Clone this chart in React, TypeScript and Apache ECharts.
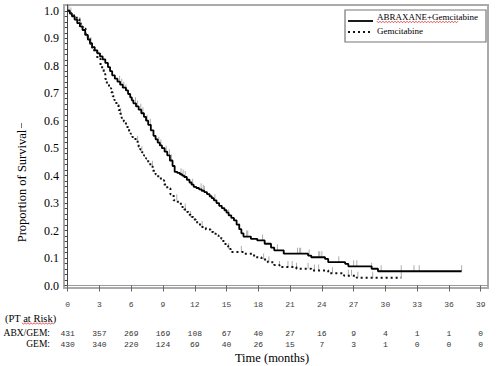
import React, { useEffect, useRef } from "react";
import * as echarts from "echarts";

// Kaplan-Meier step data (time in months, survival proportion)
const abxTimes = [0, 0.2, 0.4, 0.65, 0.9, 1.15, 1.4, 1.65, 1.9, 2.1, 2.3, 2.55, 2.8, 3.05, 3.3, 3.55, 3.8, 4.0, 4.2, 4.45, 4.7, 4.95, 5.2, 5.5, 5.7, 5.9, 6.05, 6.2, 6.45, 6.7, 6.95, 7.2, 7.4, 7.6, 7.85, 8.1, 8.3, 8.5, 8.7, 8.9, 9.15, 9.4, 9.65, 9.9, 10.1, 10.35, 10.6, 10.8, 11.0, 11.25, 11.5, 11.7, 11.9, 12.15, 12.4, 12.65, 12.9, 13.15, 13.4, 13.6, 13.8, 14.05, 14.3, 14.55, 14.8, 15.0, 15.2, 15.45, 15.7, 15.95, 16.2, 16.4, 16.6, 17.3, 17.9, 18.6, 19.2, 19.5, 20.4, 22.7, 23.0, 24.3, 24.6, 26.2, 26.5, 28.7, 29.3, 37.2];
const abxSurv = [1.0, 0.99, 0.98, 0.968, 0.955, 0.943, 0.93, 0.912, 0.895, 0.882, 0.868, 0.856, 0.845, 0.834, 0.823, 0.81, 0.795, 0.78, 0.765, 0.753, 0.742, 0.731, 0.72, 0.71, 0.697, 0.685, 0.674, 0.663, 0.652, 0.64, 0.627, 0.614, 0.6, 0.585, 0.565, 0.545, 0.532, 0.52, 0.51, 0.5, 0.487, 0.474, 0.455, 0.435, 0.414, 0.41, 0.405, 0.4, 0.395, 0.385, 0.375, 0.367, 0.359, 0.355, 0.35, 0.345, 0.34, 0.333, 0.325, 0.318, 0.31, 0.3, 0.29, 0.282, 0.274, 0.265, 0.255, 0.246, 0.237, 0.222, 0.205, 0.19, 0.178, 0.17, 0.164, 0.152, 0.138, 0.128, 0.116, 0.109, 0.103, 0.097, 0.085, 0.079, 0.07, 0.061, 0.052, 0.052];

const gemTimes = [0, 0.3, 0.6, 0.85, 1.1, 1.4, 1.7, 1.9, 2.1, 2.3, 2.5, 2.8, 3.1, 3.25, 3.4, 3.55, 3.7, 3.9, 4.1, 4.25, 4.4, 4.6, 4.8, 4.95, 5.1, 5.3, 5.5, 5.65, 5.8, 5.95, 6.1, 6.4, 6.7, 6.85, 7.0, 7.2, 7.4, 7.6, 7.8, 8.05, 8.3, 8.55, 8.8, 9.1, 9.4, 9.7, 10.0, 10.4, 10.8, 11.0, 11.2, 11.4, 11.6, 11.85, 12.1, 12.35, 12.6, 13.05, 13.5, 13.75, 14.0, 14.25, 14.5, 14.7, 14.9, 15.15, 15.4, 16.7, 17.6, 18.3, 18.9, 19.5, 20.0, 21.6, 23.0, 24.6, 26.1, 27.3, 31.5];
const gemSurv = [1.0, 0.99, 0.983, 0.968, 0.953, 0.935, 0.916, 0.898, 0.88, 0.865, 0.849, 0.825, 0.8, 0.785, 0.77, 0.752, 0.734, 0.718, 0.703, 0.689, 0.675, 0.657, 0.639, 0.625, 0.61, 0.597, 0.584, 0.573, 0.562, 0.552, 0.541, 0.523, 0.505, 0.495, 0.485, 0.473, 0.462, 0.447, 0.432, 0.418, 0.405, 0.394, 0.383, 0.368, 0.353, 0.332, 0.31, 0.298, 0.286, 0.277, 0.268, 0.258, 0.249, 0.24, 0.23, 0.222, 0.213, 0.204, 0.195, 0.188, 0.182, 0.176, 0.17, 0.158, 0.145, 0.133, 0.122, 0.116, 0.103, 0.095, 0.085, 0.075, 0.067, 0.061, 0.055, 0.045, 0.036, 0.028, 0.028];

// Censoring times
const abxCensor = [0.1, 1.1, 2.2, 4.9, 5.1, 5.3, 5.5, 6.4, 6.6, 6.9, 7.1, 7.5, 7.8, 8.6, 8.8, 9.3, 9.6, 9.8, 10.7, 10.9, 11.1, 11.8, 12.6, 12.8, 12.9, 13.9, 15.2, 16.2, 16.9, 17.0, 18.4, 19.8, 21.7, 21.9, 22.0, 22.8, 23.7, 23.8, 24.0, 25.6, 27.0, 27.3, 28.7, 29.6, 31.5, 32.7, 33.2, 37.2];
const gemCensor = [0.3, 1.2, 5.0, 6.6, 7.0, 8.0, 10.3, 11.1, 11.6, 12.7, 15.2, 16.4, 18.5, 19.0, 20.0, 20.8, 21.2, 21.6, 22.7, 23.3, 23.7, 25.0, 26.5, 26.8, 27.4, 28.8, 31.5];

// Axis ticks & risk table
const tickMonths = [0, 3, 6, 9, 12, 15, 18, 21, 24, 27, 30, 33, 36, 39];
const abxAtRisk = [431, 357, 269, 169, 108, 67, 40, 27, 16, 9, 4, 1, 1, 0];
const gemAtRisk = [430, 340, 220, 124, 69, 40, 26, 15, 7, 3, 1, 0, 0, 0];
const yLabelTicks = [0, 0.1, 0.2, 0.3, 0.4, 0.5, 0.6, 0.7, 0.8, 0.9, 1.0];
const seriesNames = ["ABRAXANE+Gemcitabine", "Gemcitabine"];

const SERIF = "'Liberation Serif', 'Times New Roman', serif";
const MONO = "'Liberation Mono', 'DejaVu Sans Mono', monospace";

function survAt(times: number[], surv: number[], t: number) {
  let s = surv[0];
  for (let i = 0; i < times.length; i++) if (times[i] <= t) s = surv[i];
  return s;
}

function squiggle(x0: number, x1: number, y: number) {
  const pts: number[][] = [];
  let k = 0;
  for (let x = x0; x <= x1; x += 1.5) {
    pts.push([x, y + (k % 2 === 0 ? -0.8 : 0.8)]);
    k++;
  }
  return pts;
}

export default function App() {
  const ref = useRef<HTMLDivElement>(null);
  useEffect(() => {
    document.body.style.margin = "0";
    if (!ref.current) return;
    const chart = echarts.init(ref.current, undefined, { renderer: "svg" });
    const minorTicks: number[] = [];
    for (let i = 0; i <= 50; i++) minorTicks.push(Math.round(i * 2) / 100);

    chart.setOption({
      animation: false,
      backgroundColor: "#fff",
      grid: {
        left: 64,
        right: 9,
        top: 5,
        bottom: 78,
        show: true,
        borderColor: "#aaa",
        borderWidth: 2,
      },
      xAxis: {
        type: "value",
        min: -0.35,
        max: 39.69,
        axisLine: { show: true, lineStyle: { color: "#999", width: 1 } },
        axisTick: { show: true, length: 6, customValues: tickMonths, lineStyle: { color: "#666" } },
        axisLabel: {
          customValues: tickMonths,
          margin: 12,
          fontFamily: MONO,
          fontSize: 8,
          color: "#444",
        },
        splitLine: { show: false },
      },
      yAxis: [
        {
          type: "value",
          min: -0.009,
          max: 1.021,
          axisLine: { show: true, lineStyle: { color: "#444", width: 1 } },
          axisTick: { show: true, length: 3, customValues: minorTicks, lineStyle: { color: "#444" } },
          axisLabel: {
            customValues: yLabelTicks,
            margin: 5,
            fontFamily: SERIF,
            fontSize: 12,
            color: "#000",
            formatter: (v: number) => v.toFixed(1),
          },
          splitLine: { show: false },
        },
      ],
      series: [
        {
          name: seriesNames[0],
          type: "line",
          step: "end",
          symbol: "none",
          data: abxTimes.map((t, i) => [t, abxSurv[i]]),
          lineStyle: { color: "#000", width: 1.8 },
          itemStyle: { color: "#000" },
          z: 3,
        },
        {
          name: seriesNames[1],
          type: "line",
          step: "end",
          symbol: "none",
          data: gemTimes.map((t, i) => [t, gemSurv[i]]),
          lineStyle: { color: "#111", width: 2, type: [2, 3] },
          itemStyle: { color: "#111" },
          z: 3,
        },
        {
          name: "abxCensor",
          type: "scatter",
          symbol: "rect",
          symbolSize: [1, 6],
          symbolOffset: [0, -3],
          itemStyle: { color: "#999" },
          data: abxCensor.map((t) => [t, survAt(abxTimes, abxSurv, t)]),
          z: 2,
        },
        {
          name: "gemCensor",
          type: "scatter",
          symbol: "rect",
          symbolSize: [1, 6],
          symbolOffset: [0, -3],
          itemStyle: { color: "#999" },
          data: gemCensor.map((t) => [t, survAt(gemTimes, gemSurv, t)]),
          z: 2,
        },
      ],
    });

    const graphics: any[] = [];
    // Legend box
    graphics.push({
      type: "rect",
      shape: { x: 345, y: 10, width: 141, height: 32 },
      style: { fill: "#fff", stroke: "#777", lineWidth: 1.2 },
      z: 10,
    });
    graphics.push({
      type: "line",
      shape: { x1: 348, y1: 21, x2: 373, y2: 21 },
      style: { stroke: "#000", lineWidth: 1.8 },
      z: 11,
    });
    graphics.push({
      type: "line",
      shape: { x1: 348, y1: 32, x2: 373, y2: 32 },
      style: { stroke: "#111", lineWidth: 2, lineDash: [2, 3] },
      z: 11,
    });
    graphics.push({
      type: "text",
      x: 377,
      y: 16.5,
      style: { text: seriesNames[0], font: `9px ${SERIF}`, fill: "#000", verticalAlign: "middle", align: "left" },
      z: 11,
    });
    graphics.push({
      type: "text",
      x: 377,
      y: 30.5,
      style: { text: seriesNames[1], font: `9px ${SERIF}`, fill: "#000", verticalAlign: "middle", align: "left" },
      z: 11,
    });
    graphics.push({
      type: "polyline",
      shape: { points: squiggle(377, 458, 22) },
      style: { stroke: "#e03030", lineWidth: 0.8, fill: null },
      z: 12,
    });

    graphics.push({
      type: "text",
      x: 5,
      y: 318,
      style: { text: "(PT at Risk)", font: `10.5px ${SERIF}`, fill: "#000", verticalAlign: "middle", align: "left" },
    });
    graphics.push({
      type: "polyline",
      shape: { points: squiggle(22, 54, 323.5) },
      style: { stroke: "#e03030", lineWidth: 0.8, fill: null },
    });
    graphics.push({
      type: "text",
      x: 50,
      y: 333,
      style: { text: "ABX/GEM:", font: `9.5px ${SERIF}`, fill: "#000", verticalAlign: "middle", align: "right" },
    });
    graphics.push({
      type: "text",
      x: 50,
      y: 344,
      style: { text: "GEM:", font: `9.5px ${SERIF}`, fill: "#000", verticalAlign: "middle", align: "right" },
    });
    tickMonths.forEach((m, i) => {
      const px = chart.convertToPixel({ xAxisIndex: 0 }, m) as number;
      graphics.push({
        type: "text",
        x: px,
        y: 333,
        style: { text: String(abxAtRisk[i]), font: `8px ${MONO}`, fill: "#333", verticalAlign: "middle", align: "center" },
      });
      graphics.push({
        type: "text",
        x: px,
        y: 344,
        style: { text: String(gemAtRisk[i]), font: `8px ${MONO}`, fill: "#333", verticalAlign: "middle", align: "center" },
      });
    });
    graphics.push({
      type: "text",
      x: 272,
      y: 358,
      style: { text: "Time (months)", font: `12.5px ${SERIF}`, fill: "#000", verticalAlign: "middle", align: "center" },
    });
    graphics.push({
      type: "text",
      x: 22,
      y: 186,
      rotation: Math.PI / 2,
      style: { text: "Proportion of Survival", font: `12.5px ${SERIF}`, fill: "#000", verticalAlign: "middle", align: "center" },
    });
    graphics.push({
      type: "line",
      shape: { x1: 21.5, y1: 123, x2: 21.5, y2: 128 },
      style: { stroke: "#777", lineWidth: 1 },
    });
    chart.setOption({ graphic: graphics });

    return () => chart.dispose();
  }, []);
  return <div ref={ref} style={{ width: 497, height: 366 }} />;
}
